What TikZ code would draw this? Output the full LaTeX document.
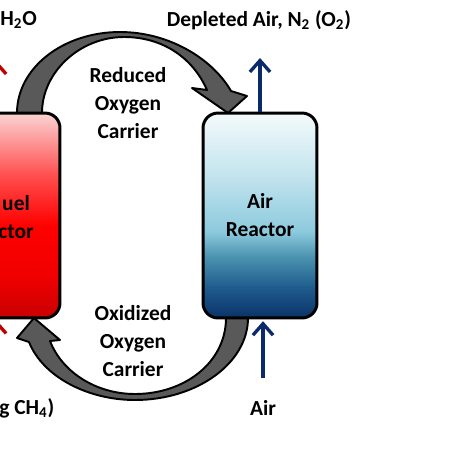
\documentclass[tikz,border=0pt]{standalone}
\usepackage{fontspec}
\setmainfont{Carlito}
\usetikzlibrary{arrows.meta}
\definecolor{carriergray}{HTML}{595959}
\definecolor{navy}{HTML}{0B2A6B}
\definecolor{fuelred}{HTML}{C00000}
\definecolor{airA}{HTML}{0B3269}
\definecolor{airB}{HTML}{1F5C8E}
\definecolor{airC}{HTML}{4B93B0}
\definecolor{airD}{HTML}{8CCADD}
\definecolor{airE}{HTML}{C4E4EE}
\definecolor{airF}{HTML}{F4FAFC}
\definecolor{fuelA}{HTML}{C80000}
\definecolor{fuelB}{HTML}{F00000}
\definecolor{fuelC}{HTML}{FF0000}
\definecolor{fuelD}{HTML}{FF5050}
\definecolor{fuelE}{HTML}{FBD4D4}
\pgfdeclareverticalshading{airshade}{100bp}{color(0bp)=(airA); color(25bp)=(airA); color(32.5bp)=(airB); color(40bp)=(airC); color(46bp)=(airD); color(60bp)=(airE); color(75bp)=(airF); color(100bp)=(airF)}
\pgfdeclareverticalshading{fuelshade}{100bp}{color(0bp)=(fuelA); color(25bp)=(fuelA); color(35bp)=(fuelB); color(47.5bp)=(fuelC); color(60bp)=(fuelD); color(75bp)=(fuelE); color(100bp)=(fuelE)}
\tikzset{
x=0.02cm, y=-0.02cm,
txt/.style={align=center, inner sep=0pt, font=\bfseries\fontsize{12.2}{15.9}\selectfont},
reactor/.style={draw, line width=1.7pt, rounded corners=0.3cm, minimum width=2.28cm, minimum height=4.1cm, inner sep=0pt},
carrier/.style={fill=carriergray, draw=black, line width=1.1pt, line join=round},
flow/.style={-{Straight Barb[length=6.5pt,width=11.5pt]}, line width=1.9pt},
}

\begin{document}
\begin{tikzpicture}
        \useasboundingbox (0,0) rectangle (474,474);
        \clip (0,0) rectangle (474,474);

        % oxygen carrier loop
        \path[carrier] (17,120) -- (17,113) .. controls (17,68) and (63,32) .. (120,32)
            .. controls (168,32) and (212,58) .. (231,91) -- (247,96) -- (228,113) -- (192,88) -- (207,90)
            .. controls (193,58) and (163,37) .. (124,37) .. controls (80,37) and (42,72) .. (42,113)
            -- (42,120) -- cycle;
        \path[carrier] (226,312) -- (226,318) .. controls (226,362) and (185,394) .. (135,394)
            .. controls (96,394) and (62,372) .. (50,341) -- (60,340) -- (34,318) -- (17,338) -- (29,342)
            .. controls (43,377) and (88,400) .. (135,400) .. controls (197,400) and (248,363) .. (248,318)
            -- (248,312) -- cycle;

        \node[reactor, shading=fuelshade] (fuel) at (3,215.5) {};
        \node[reactor, shading=airshade, txt] (air) at (260,215.5) {Air\\Reactor};

        \coordinate (fuelout) at (-4,60);
        \coordinate (fuelin) at (-4,378);
        \coordinate (airout) at (260,58);
        \coordinate (airin) at (263,378);
        \draw[flow, draw=fuelred] (fuelout |- fuel.north) -- (fuelout);
        \draw[flow, draw=fuelred] (fuelin) -- (fuelin |- fuel.south);
        \draw[flow, draw=navy] (airout |- air.north) -- (airout);
        \draw[flow, draw=navy] (airin) -- ([yshift=-1pt]airin |- air.south);

        \node[txt, anchor=west] (fuelname) at (-2,217) {uel\\ctor};
        \node[txt] (reduced) at (128,103) {Reduced\\Oxygen\\Carrier};
        \node[txt] (oxidized) at (133,341) {Oxidized\\Oxygen\\Carrier};
        \node[txt] (depleted) at (259,20) {Depleted Air, N\textsubscript{2} (O\textsubscript{2})};
        \node[txt, anchor=west] (products) at (0,20) {H\textsubscript{2}O};
        \node[txt, anchor=west] (fuelgas) at (-1,408) {g CH\textsubscript{4})};
        \node[txt] (airgas) at (263,408) {Air};
    \end{tikzpicture}
\end{document}
